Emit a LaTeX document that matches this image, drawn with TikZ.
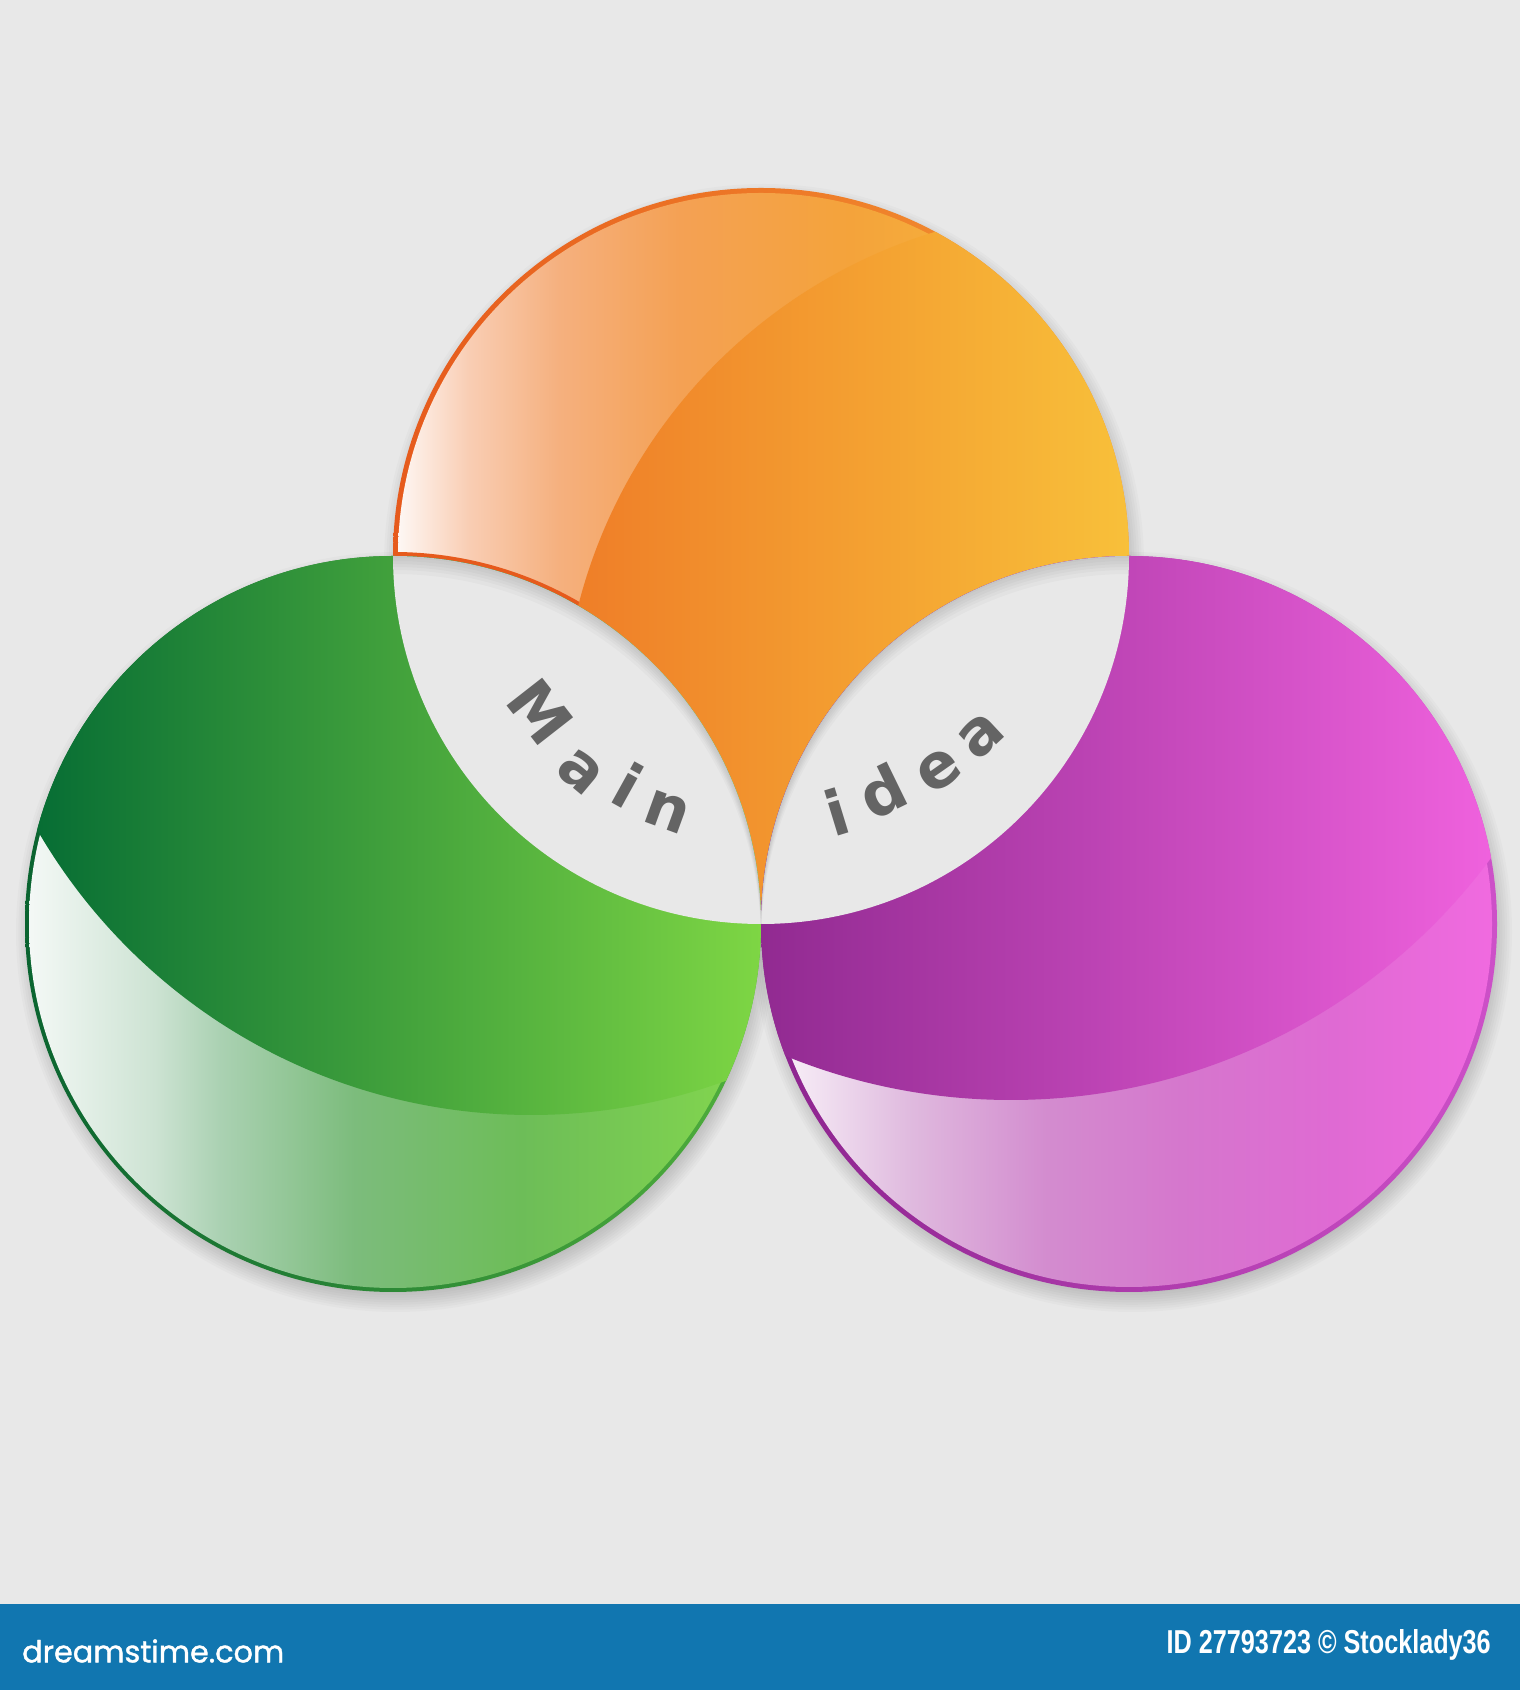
\documentclass[tikz,border=0pt]{standalone}
\usepackage{graphicx}
\usepackage{fontspec}
\setmainfont{DejaVu Sans}
\newfontfamily\barfont{Liberation Sans}
\newfontfamily\logofont{Poppins}[FakeBold=1.3]
\usetikzlibrary{calc}

\definecolor{bgcol}{RGB}{232,232,232}
\definecolor{barcol}{RGB}{17,118,176}
\definecolor{txtcol}{RGB}{100,100,100}
\definecolor{orL}{RGB}{236,104,34}
\definecolor{orR}{RGB}{248,192,58}
\definecolor{grL}{RGB}{5,108,52}
\definecolor{grR}{RGB}{126,214,68}
\definecolor{puL}{RGB}{145,42,145}
\definecolor{puR}{RGB}{240,98,222}
\definecolor{orRingL}{RGB}{230,90,28}
\definecolor{orRingR}{RGB}{244,150,50}
\definecolor{grRingL}{RGB}{10,100,48}
\definecolor{grRingR}{RGB}{80,175,60}
\definecolor{puRingL}{RGB}{140,36,142}
\definecolor{puRingR}{RGB}{205,80,200}
\definecolor{ho0}{RGB}{254,250,248}
\definecolor{ho1}{RGB}{249,205,179}
\definecolor{ho2}{RGB}{245,176,126}
\definecolor{ho3}{RGB}{244,161,84}
\definecolor{ho4}{RGB}{244,163,59}
\definecolor{ho5}{RGB}{248,192,58}
\definecolor{hg0}{RGB}{245,249,247}
\definecolor{hg1}{RGB}{205,227,211}
\definecolor{hg2}{RGB}{170,209,178}
\definecolor{hg3}{RGB}{124,188,124}
\definecolor{hg4}{RGB}{109,189,88}
\definecolor{hg5}{RGB}{132,216,77}
\definecolor{hp0}{RGB}{252,249,252}
\definecolor{hp1}{RGB}{223,185,222}
\definecolor{hp2}{RGB}{211,140,207}
\definecolor{hp3}{RGB}{213,119,205}
\definecolor{hp4}{RGB}{223,106,211}
\definecolor{hp5}{RGB}{241,106,224}

\pgfdeclarehorizontalshading{hlorange}{100bp}{color(0bp)=(ho0); color(25bp)=(ho0); color(30.2bp)=(ho1); color(36.3bp)=(ho2); color(44.5bp)=(ho3); color(56bp)=(ho4); color(75bp)=(ho5); color(100bp)=(ho5)}
\pgfdeclarehorizontalshading{hlgreen}{100bp}{color(0bp)=(hg0); color(25bp)=(hg0); color(33.8bp)=(hg1); color(38.3bp)=(hg2); color(47.4bp)=(hg3); color(58.7bp)=(hg4); color(75bp)=(hg5); color(100bp)=(hg5)}
\pgfdeclarehorizontalshading{hlpurple}{100bp}{color(0bp)=(hp0); color(25bp)=(hp0); color(35.3bp)=(hp1); color(44.4bp)=(hp2); color(53.5bp)=(hp3); color(63.9bp)=(hp4); color(75bp)=(hp5); color(100bp)=(hp5)}

\tikzset{
  shadowlayer/.style={fill=black, opacity=0.02},
  lensshade/.style={fill=black, opacity=0.022, even odd rule},
  letter/.style={text=txtcol, inner sep=0pt, anchor=center, font=\fontsize{62}{62}\selectfont\bfseries},
  bartext/.style={text=white, inner sep=0pt}
}

\begin{document}
\begin{tikzpicture}[x=1pt,y=1pt]
\useasboundingbox (0,0) rectangle (1520,1690);
\fill[bgcol] (0,0) rectangle (1520,1690);

\coordinate (O) at (761,1134);
\coordinate (G) at (393,766);
\coordinate (P) at (1129,766);
\coordinate (Oi) at (1089,954);
\coordinate (Gi) at (531,1145);
\coordinate (Pi) at (1011,1187);

% soft shadows
\foreach \k in {0,...,10} {
  \fill[shadowlayer] ($(O)+(3,-8)$) circle ({380-2.4*\k});
  \fill[shadowlayer] ($(G)+(3,-8)$) circle ({380-2.4*\k});
  \fill[shadowlayer] ($(P)+(3,-8)$) circle ({380-2.4*\k});
}

% ---------- orange ----------
\begin{scope}
  \clip (O) circle (368);
  \shade[left color=orRingL, right color=orRingR] (393,766) rectangle (1129,1502);
\end{scope}
\begin{scope}
  \clip (O) circle (363);
  \shade[shading=hlorange] (393,766) rectangle (1129,1502);
\end{scope}
\begin{scope}
  \clip (O) circle (368);
  \draw[orRingL, line width=8] (G) circle (368);
\end{scope}
\begin{scope}
  \clip (O) circle (368);
  \clip (Oi) circle (527);
  \shade[left color=orL, right color=orR] (393,766) rectangle (1129,1502);
\end{scope}

% ---------- green ----------
\begin{scope}
  \clip (G) circle (368);
  \shade[left color=grRingL, right color=grRingR] (25,398) rectangle (761,1134);
\end{scope}
\begin{scope}
  \clip (G) circle (364);
  \shade[shading=hlgreen] (25,398) rectangle (761,1134);
\end{scope}
\begin{scope}
  \clip (G) circle (368);
  \clip (Gi) circle (570);
  \shade[left color=grL, right color=grR] (25,398) rectangle (761,1134);
\end{scope}

% ---------- purple ----------
\begin{scope}
  \clip (P) circle (368);
  \shade[left color=puRingL, right color=puRingR] (761,398) rectangle (1497,1134);
\end{scope}
\begin{scope}
  \clip (P) circle (363);
  \shade[shading=hlpurple] (761,398) rectangle (1497,1134);
\end{scope}
\begin{scope}
  \clip (P) circle (368);
  \clip (Pi) circle (597);
  \shade[left color=puL, right color=puR] (761,398) rectangle (1497,1134);
\end{scope}

% ---------- lenses ----------
\begin{scope}
  \clip (O) circle (368);
  \fill[bgcol] (G) circle (368);
  \fill[bgcol] (P) circle (368);
\end{scope}
\begin{scope}
  \clip (O) circle (368);
  \clip (G) circle (368);
  \foreach \d in {2,5,8,11,14,18} {
    \fill[lensshade] (0,0) rectangle (1520,1690) ($(G)+(0,-\d)$) circle (368);
  }
\end{scope}
\begin{scope}
  \clip (O) circle (368);
  \clip (P) circle (368);
  \foreach \d in {2,5,8,11,14,18} {
    \fill[lensshade] (0,0) rectangle (1520,1690) ($(P)+(0,-\d)$) circle (368);
  }
\end{scope}

% ---------- text ----------
\node[letter, rotate=-52] (tM) at (540,978) {M};
\node[letter, rotate=-40] (ta1) at (580,918) {a};
\node[letter, rotate=-29] (ti1) at (628,905) {i};
\node[letter, rotate=-20] (tn) at (667,878) {n};
\node[letter, rotate=17] (ti2) at (837,878) {i};
\node[letter, rotate=26] (td) at (882,899) {d};
\node[letter, rotate=35] (te) at (939,919) {e};
\node[letter, rotate=43] (ta2) at (981,954) {a};

% ---------- bottom bar ----------
\fill[barcol] (0,0) rectangle (1520,86);
\node[bartext, anchor=west] (logo) at (22,39) {\logofont\resizebox{262pt}{!}{dreamstime.com}};
\node[bartext, anchor=east] (idt) at (1491,45) {\barfont\bfseries\resizebox{324pt}{24pt}{ID 27793723 © Stocklady36}};
\end{tikzpicture}
\end{document}
